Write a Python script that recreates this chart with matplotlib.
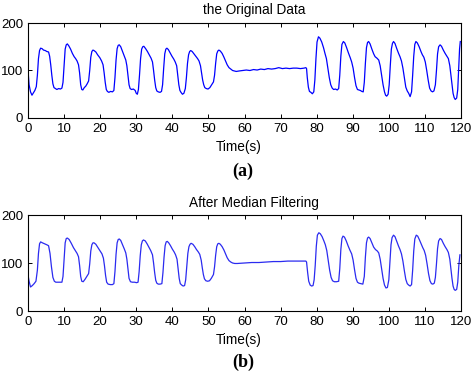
import numpy as np
import matplotlib
matplotlib.use('Agg')
import matplotlib.pyplot as plt

###############################
### raw signal (panel a)
###############################
time_a = [0.0, 0.3, 0.7, 1.1, 1.5, 1.9, 2.3, 2.6, 2.9, 3.2, 3.5, 3.9, 4.3, 4.8, 5.2, 5.7, 6.0, 6.3, 6.6, 6.9, 7.2, 7.6, 8.0, 8.5, 9.0, 9.4,
          9.7, 10.0, 10.3, 10.6, 10.9, 11.3, 11.8, 12.3, 12.8, 13.2, 13.6, 14.0, 14.3, 14.6, 14.9, 15.2, 15.6, 16.0, 16.4, 16.8,
          17.1, 17.4, 17.7, 18.0, 18.3, 18.8, 19.3, 19.9, 20.4, 20.8, 21.1, 21.4, 21.7, 22.0, 22.4, 22.9, 23.4, 23.8,
          24.1, 24.4, 24.7, 25.0, 25.3, 25.7, 26.2, 26.7, 27.1, 27.4, 27.7, 28.0, 28.3, 28.7, 29.2, 29.7, 30.0, 30.3,
          30.6, 30.9, 31.2, 31.5, 31.8, 32.1, 32.6, 33.1, 33.6, 34.1, 34.5, 34.8, 35.1, 35.4, 35.7, 36.1, 36.6, 37.0,
          37.3, 37.6, 37.9, 38.2, 38.5, 38.9, 39.4, 39.9, 40.4, 40.8, 41.2, 41.5, 41.8, 42.1, 42.4, 42.8, 43.2,
          43.6, 43.9, 44.2, 44.5, 44.8, 45.1, 45.5, 46.0, 46.5, 47.0, 47.4, 47.8, 48.1, 48.4, 48.7, 49.0, 49.4, 49.9, 50.4, 50.9, 51.4,
          51.7, 52.0, 52.3, 52.6, 52.9, 53.3, 53.8, 54.3, 54.7, 55.2, 55.7, 56.2, 56.7, 57.2, 57.7,
          58.5, 59.5, 60.5, 61.5, 62.5, 63.5, 64.5, 65.5, 66.5, 67.5, 68.5, 69.5, 70.5, 71.5, 72.5, 73.5, 74.5, 75.5, 76.5, 77.0,
          77.2, 77.4, 77.7, 78.0, 78.4, 78.8, 79.2, 79.5, 79.8, 80.1, 80.5, 80.9, 81.4, 81.9, 82.3, 82.7, 83.1, 83.5, 83.9, 84.3, 84.7, 85.2, 85.7, 86.1,
          86.4, 86.7, 87.0, 87.4, 87.8, 88.3, 88.8, 89.3, 89.7, 90.1, 90.5, 90.9, 91.3, 91.7, 92.1, 92.5, 92.9,
          93.2, 93.5, 93.8, 94.1, 94.4, 94.8, 95.3, 95.8, 96.2, 96.7, 97.2, 97.6, 98.0, 98.4, 98.8, 99.1, 99.4, 99.8,
          100.1, 100.4, 100.7, 101.0, 101.3, 101.7, 102.2, 102.7, 103.1, 103.5, 103.9, 104.3, 104.7, 105.1, 105.5, 105.9, 106.3,
          106.6, 106.9, 107.2, 107.5, 107.9, 108.4, 108.9, 109.3, 109.7, 110.1, 110.5, 110.9, 111.3, 111.7, 112.1, 112.5,
          112.9, 113.2, 113.5, 113.8, 114.2, 114.6, 115.1, 115.6, 116.1, 116.5, 116.9, 117.2, 117.5, 117.8, 118.1, 118.4, 118.8, 119.1, 119.4, 119.6, 119.8]
value_a = [101, 70, 55, 48, 53, 58, 66, 90, 125, 142, 147, 146, 143, 142, 140, 139, 130, 112, 90, 72, 64, 62, 60, 62, 61, 63,
           75, 110, 145, 154, 156, 152, 145, 136, 129, 125, 120, 112, 95, 70, 60, 59, 64, 67, 72, 78,
           100, 128, 140, 143, 142, 139, 133, 127, 120, 112, 95, 75, 60, 56, 54, 56, 55, 58,
           85, 122, 146, 153, 154, 150, 140, 130, 122, 110, 90, 70, 62, 60, 61, 58, 52, 50,
           60, 90, 125, 145, 150, 151, 146, 140, 133, 126, 118, 100, 80, 64, 57, 55, 54, 56,
           70, 105, 135, 145, 147, 144, 137, 130, 124, 118, 110, 90, 70, 58, 54, 50, 52,
           62, 85, 115, 133, 140, 142, 140, 135, 130, 125, 120, 110, 95, 80, 70, 64, 62, 61, 64, 70, 76,
           90, 115, 135, 141, 143, 141, 136, 128, 121, 112, 106, 103, 100, 99, 98,
           99, 100, 101, 100, 102, 101, 103, 102, 104, 103, 104, 106, 104, 105, 104, 105, 105, 104, 105, 106,
           104, 85, 65, 56, 54, 51, 55, 80, 125, 160, 171, 168, 160, 148, 136, 125, 105, 85, 70, 63, 60, 61, 59, 62,
           90, 130, 155, 161, 158, 148, 137, 127, 118, 105, 85, 68, 60, 59, 58, 56, 55,
           75, 115, 148, 159, 161, 156, 145, 135, 129, 126, 122, 110, 90, 70, 55, 48, 46, 50,
           70, 110, 145, 157, 161, 157, 146, 136, 129, 120, 105, 85, 65, 57, 52, 45, 55,
           90, 130, 155, 161, 158, 150, 140, 133, 128, 118, 100, 80, 63, 57, 55, 57,
           70, 100, 135, 150, 154, 151, 143, 136, 130, 125, 110, 90, 70, 52, 43, 39, 42, 60, 110, 145, 161]

###############################
### median filtered (panel b)
###############################
time_b = [0.0, 0.3, 0.7, 1.2, 1.7, 2.2, 2.6, 2.9, 3.2, 3.5, 4.0, 4.6, 5.2, 5.7, 6.1, 6.5, 6.9, 7.3, 7.7, 8.5, 9.4,
          9.7, 10.0, 10.3, 10.6, 10.9, 11.4, 12.0, 12.6, 13.1, 13.6, 14.0, 14.3, 14.6, 14.9, 15.3, 15.8, 16.4, 16.8,
          17.1, 17.4, 17.7, 18.0, 18.3, 18.8, 19.4, 20.0, 20.5, 20.9, 21.2, 21.5, 21.8, 22.2, 22.8, 23.4, 23.8,
          24.1, 24.4, 24.7, 25.0, 25.3, 25.7, 26.2, 26.7, 27.1, 27.4, 27.7, 28.0, 28.4, 28.9, 29.5, 30.1, 30.5,
          30.8, 31.1, 31.4, 31.7, 32.0, 32.5, 33.0, 33.5, 34.0, 34.5, 34.8, 35.1, 35.4, 35.7, 36.1, 36.6, 37.1,
          37.4, 37.7, 38.0, 38.3, 38.6, 39.0, 39.5, 40.0, 40.5, 40.9, 41.3, 41.6, 41.9, 42.2, 42.6, 43.0, 43.4,
          43.7, 44.0, 44.3, 44.6, 44.9, 45.2, 45.7, 46.2, 46.7, 47.2, 47.6, 48.0, 48.3, 48.6, 48.9, 49.3, 49.8, 50.3, 50.8, 51.4,
          51.7, 52.0, 52.3, 52.6, 52.9, 53.3, 53.8, 54.3, 54.7, 55.2, 55.7, 56.2, 56.7, 57.3, 58.0,
          60.0, 62.0, 64.0, 66.0, 68.0, 70.0, 72.0, 74.0, 76.0, 77.0,
          77.2, 77.5, 77.8, 78.2, 78.6, 79.0, 79.3, 79.6, 79.9, 80.2, 80.6, 81.0, 81.5, 82.0, 82.4, 82.8, 83.2, 83.6, 84.0, 84.4, 84.9, 85.5, 86.1,
          86.4, 86.7, 87.0, 87.3, 87.7, 88.2, 88.7, 89.2, 89.7, 90.1, 90.5, 90.9, 91.3, 91.7, 92.2, 92.8,
          93.2, 93.5, 93.8, 94.1, 94.4, 94.8, 95.3, 95.8, 96.3, 96.8, 97.2, 97.6, 98.0, 98.4, 98.8, 99.2, 99.6,
          100.0, 100.3, 100.6, 100.9, 101.3, 101.7, 102.2, 102.7, 103.1, 103.5, 103.9, 104.3, 104.7, 105.1, 105.5, 105.9, 106.3,
          106.6, 106.9, 107.2, 107.6, 108.0, 108.5, 109.0, 109.4, 109.8, 110.2, 110.6, 111.0, 111.4, 111.8, 112.2, 112.6,
          112.9, 113.2, 113.5, 113.8, 114.2, 114.6, 115.1, 115.6, 116.1, 116.5, 116.9, 117.2, 117.5, 117.8, 118.1, 118.4, 118.8, 119.1, 119.4, 119.7]
value_b = [75, 62, 50, 53, 57, 62, 85, 120, 140, 144, 142, 140, 138, 136, 120, 92, 70, 62, 60, 60, 60,
           72, 108, 142, 151, 152, 149, 141, 132, 126, 120, 113, 95, 72, 62, 61, 66, 73, 78,
           98, 125, 138, 142, 142, 139, 132, 125, 119, 110, 94, 74, 60, 56, 55, 55, 57,
           82, 118, 142, 149, 150, 147, 138, 129, 121, 108, 88, 68, 61, 60, 60, 59, 60,
           82, 115, 138, 146, 148, 146, 140, 133, 126, 117, 100, 80, 64, 58, 56, 56, 57,
           80, 112, 136, 144, 145, 142, 136, 129, 123, 117, 108, 88, 68, 57, 54, 52, 53,
           65, 92, 120, 134, 139, 141, 139, 134, 128, 123, 118, 106, 90, 76, 67, 63, 62, 63, 68, 76,
           92, 116, 134, 140, 141, 139, 134, 127, 120, 111, 105, 102, 100, 99, 99,
           100, 101, 101, 102, 103, 103, 104, 104, 104, 104,
           102, 80, 62, 54, 52, 53, 65, 95, 135, 158, 163, 161, 155, 146, 138, 126, 106, 85, 70, 63, 61, 61, 62,
           88, 128, 151, 156, 154, 146, 136, 127, 119, 106, 86, 68, 60, 58, 57, 56,
           72, 112, 142, 152, 154, 151, 142, 133, 128, 125, 121, 108, 88, 68, 54, 48, 49,
           65, 100, 138, 153, 158, 155, 145, 135, 128, 119, 104, 84, 66, 57, 54, 52, 55,
           85, 125, 150, 158, 156, 148, 139, 132, 126, 116, 98, 78, 63, 57, 56, 58,
           70, 98, 130, 146, 151, 149, 141, 134, 128, 122, 108, 88, 68, 52, 45, 43, 45, 60, 95, 117]

x_ticks = [0, 10, 20, 30, 40, 50, 60, 70, 80, 90, 100, 110, 120]
y_ticks = [0, 100, 200]

################################
######PLOTTING ONLY#############
################################
W, H = 474., 372.
fig = plt.figure(figsize=(W/100., H/100.), dpi=100)
sans = 'Liberation Sans'

#axes boxes in pixels (left, top, right, bottom)
boxes = [(28, 23, 461, 118), (28, 215, 461, 311)]
panels = [(time_a, value_a, '#0000ff', 'the Original Data', '(a)', 10, 147, 171),
          (time_b, value_b, '#2b2bf0', 'After Median Filtering', '(b)', 203, 340, 362)]

for (l, t, r, b), (tt, vv, col, title, tag, ty, xly, tagy) in zip(boxes, panels):
    ax = fig.add_axes([l/W, 1-b/H, (r-l)/W, (b-t)/H])
    ax.plot(tt, vv, '-', color=col, lw=0.9)
    ax.set_xlim(0, 120)
    ax.set_ylim(0, 200)
    ax.set_xticks(x_ticks)
    ax.set_yticks(y_ticks)
    ax.tick_params(direction='in', length=3, width=0.7, top=True, right=True,
                   labelsize=9.5, pad=3.5)
    for lab in ax.get_xticklabels() + ax.get_yticklabels():
        lab.set_fontfamily(sans)
    for s in ax.spines.values():
        s.set_linewidth(0.8)
    ax.xaxis.get_majorticklabels()[-1].set_clip_on(False)
    #title, axis label and panel tag
    fig.text(254/W, 1-ty/H, title, ha='center', va='center', fontsize=9.8, family=sans)
    fig.text(239/W, 1-xly/H, 'Time(s)', ha='center', va='center', fontsize=9.8, family=sans)
    fig.text(243/W, 1-tagy/H, tag, ha='center', va='center', fontsize=13,
             family='Liberation Serif', weight='bold')

plt.savefig('out.png', dpi=100)
